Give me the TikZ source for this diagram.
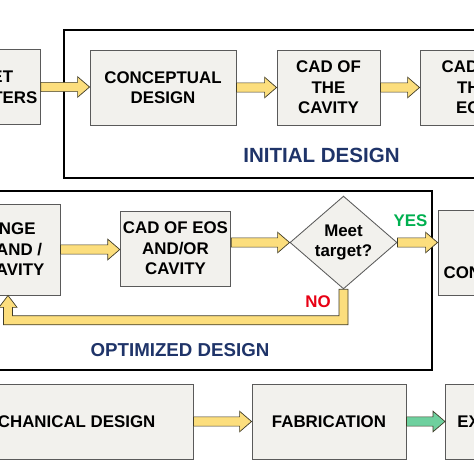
\documentclass[tikz,border=0pt]{standalone}
\usepackage{fontspec}
\setmainfont{Liberation Sans}
\usetikzlibrary{shapes.geometric,calc}

\definecolor{boxfill}{RGB}{242,241,237}
\definecolor{boxline}{RGB}{90,90,90}
\definecolor{arrowyellow}{RGB}{252,222,125}
\definecolor{arrowgreen}{RGB}{110,208,158}
\definecolor{arrowline}{RGB}{64,60,40}
\definecolor{titleblue}{RGB}{31,52,105}
\definecolor{yesgreen}{RGB}{0,176,80}
\definecolor{nored}{RGB}{232,0,20}

\tikzset{
  box/.style={draw=boxline, fill=boxfill, line width=0.6pt, align=center, inner sep=2pt,
    minimum height=18.75mm, font=\fontsize{12}{14.5}\selectfont\bfseries},
  decision/.style={box, diamond, inner sep=0pt, minimum width=26.75mm, minimum height=22.75mm},
  frame/.style={draw=black, line width=1.1pt},
  yarrow/.style={draw=arrowline, fill=arrowyellow, line width=0.5pt},
  garrow/.style={draw=arrowline, fill=arrowgreen, line width=0.5pt},
  title/.style={text=titleblue},
}

\newcommand{\blockarrow}[3][yarrow]{%
  \path[#1] let \p1=(#2), \p2=(#3) in
    (\x1,\y1+3.3pt) -- (\x2-8.5pt,\y1+3.3pt) -- (\x2-8.5pt,\y1+7.3pt) -- (\x2,\y1)
    -- (\x2-8.5pt,\y1-7.3pt) -- (\x2-8.5pt,\y1-3.3pt) -- (\x1,\y1-3.3pt) -- cycle;}

\begin{document}
\begin{tikzpicture}[x=0.025cm, y=-0.025cm]
    \useasboundingbox (0,0) rectangle (474,474);
    \fill[white] (0,0) rectangle (474,474);
    \clip (0,0) rectangle (474,474);

    % Frames
    \draw[frame] (64,30) rectangle (560,178);
    \draw[frame] (-100,191) rectangle (432,370);

    % Initial design
    \node[box, minimum width=30mm] (par) at (-21,87) {TARGET\\PARAMETERS};
    \node[box, minimum width=36.5mm] (con) at (163,87.5) {CONCEPTUAL\\DESIGN};
    \node[box, minimum width=25.75mm] (cavcad) at (328.5,87.5) {CAD OF\\THE\\CAVITY};
    \node[box, minimum width=27mm] (eoscad) at (474,87.5) {CAD OF\\THE\\EOS};
    \node[title, font=\fontsize{14.6}{17}\selectfont\bfseries] (initlbl) at (321.5,155) {INITIAL DESIGN};

    % Optimized design
    \node[box, minimum width=30.5mm, minimum height=22.75mm] (chg) at (-1,249.5) {CHANGE\\EOS AND /\\OR CAVITY};
    \node[box, minimum width=26.75mm] (eos) at (175.5,248.5) {CAD OF EOS\\AND/OR\\CAVITY};
    \node[decision] (mt) at (343.5,242.5) {Meet\\target?};
    \node[box, minimum width=34mm, minimum height=21.25mm] (conn) at (506,252.5) {DESIGN\\OF\\CONNECTIONS};
    \node[title, font=\fontsize{13.3}{16}\selectfont\bfseries] (optlbl) at (180,350) {OPTIMIZED DESIGN};
    \node[text=yesgreen, font=\fontsize{12}{14}\selectfont\bfseries] (yes) at (410.5,221) {YES};
    \node[text=nored, font=\fontsize{12}{14}\selectfont\bfseries] (no) at (318,302) {NO};

    % Last row
    \node[box, minimum width=64.5mm] (mech) at (64,421.5) {MECHANICAL DESIGN};
    \node[box, minimum width=38.5mm] (fab) at (329,421.5) {FABRICATION};
    \node[box, anchor=west, inner xsep=3mm] (exp) at (445,421.5) {EXPERIMENTAL TESTS};

    % Arrows
    \blockarrow{par.east}{con.west}
    \blockarrow{con.east}{cavcad.west}
    \blockarrow{cavcad.east}{eoscad.west}
    \blockarrow{chg.east}{eos.west}
    \blockarrow{eos.east |- mt.west}{mt.west}
    \blockarrow{mt.east}{conn.west}
    \blockarrow{mech.east}{fab.west}
    \blockarrow[garrow]{fab.east}{exp.west}

    % Feedback (NO)
    \coordinate (noturn) at ([yshift=-7.75mm]mt.south);
    \coordinate (noend) at ([xshift=2.25mm]chg.south);
    \path[yarrow] let \p1=(mt.south), \p2=(noturn), \p3=(noend) in
      (\x1-3.2pt,\y1) -- (\x1-3.2pt,\y2+3.2pt) -- (\x3+3.2pt,\y2+3.2pt)
      -- (\x3+3.2pt,\y3-8.5pt) -- (\x3+6.4pt,\y3-8.5pt) -- (\x3,\y3)
      -- (\x3-6.4pt,\y3-8.5pt) -- (\x3-3.2pt,\y3-8.5pt) -- (\x3-3.2pt,\y2-3.2pt)
      -- (\x1+3.2pt,\y2-3.2pt) -- (\x1+3.2pt,\y1) -- cycle;
\end{tikzpicture}
\end{document}
